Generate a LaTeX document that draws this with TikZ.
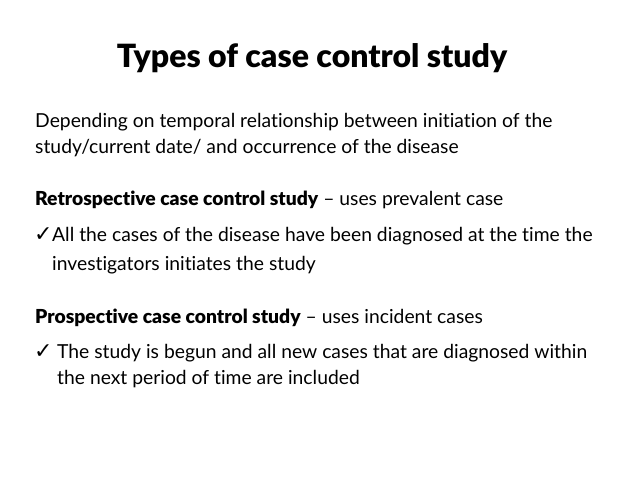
\documentclass[tikz,border=0pt]{standalone}
\usepackage{fontspec}
\setmainfont[Ligatures=NoCommon,BoldFont={Lato Black}]{Lato}
\newfontfamily\sym{DejaVu Sans}
\begin{document}
\begin{tikzpicture}[x=1pt,y=-1pt,
  txt/.style={anchor=base west,inner sep=0pt,font=\fontsize{19.3}{22}\selectfont}]
\useasboundingbox (0,0) rectangle (638,478);
\node[anchor=base,inner sep=0pt,font=\fontsize{32}{36}\selectfont\bfseries] (t) at (312,68) {Types of case control study};
\node[txt] (a1) at (35,128) {Depending on temporal relationship between initiation of the};
\node[txt] (a2) at (35,154) {study/current date/ and occurrence of the disease};
\node[txt] (r) at (35,206) {\textbf{Retrospective case control study} -- uses prevalent case};
\node[txt] (c1) at (34,242) {{\sym\bfseries\fontsize{22}{22}\selectfont ✓}};
\node[txt] (r1) at (52,242) {All the cases of the disease have been diagnosed at the time the};
\node[txt] (r2) at (52,271) {investigators initiates the study};
\node[txt] (p) at (35,324) {\textbf{Prospective case control study} -- uses incident cases};
\node[txt] (c2) at (34,359) {{\sym\bfseries\fontsize{22}{22}\selectfont ✓}};
\node[txt] (p1) at (57,359) {The study is begun and all new cases that are diagnosed within};
\node[txt] (p2) at (57,385) {the next period of time are included};
\end{tikzpicture}
\end{document}
